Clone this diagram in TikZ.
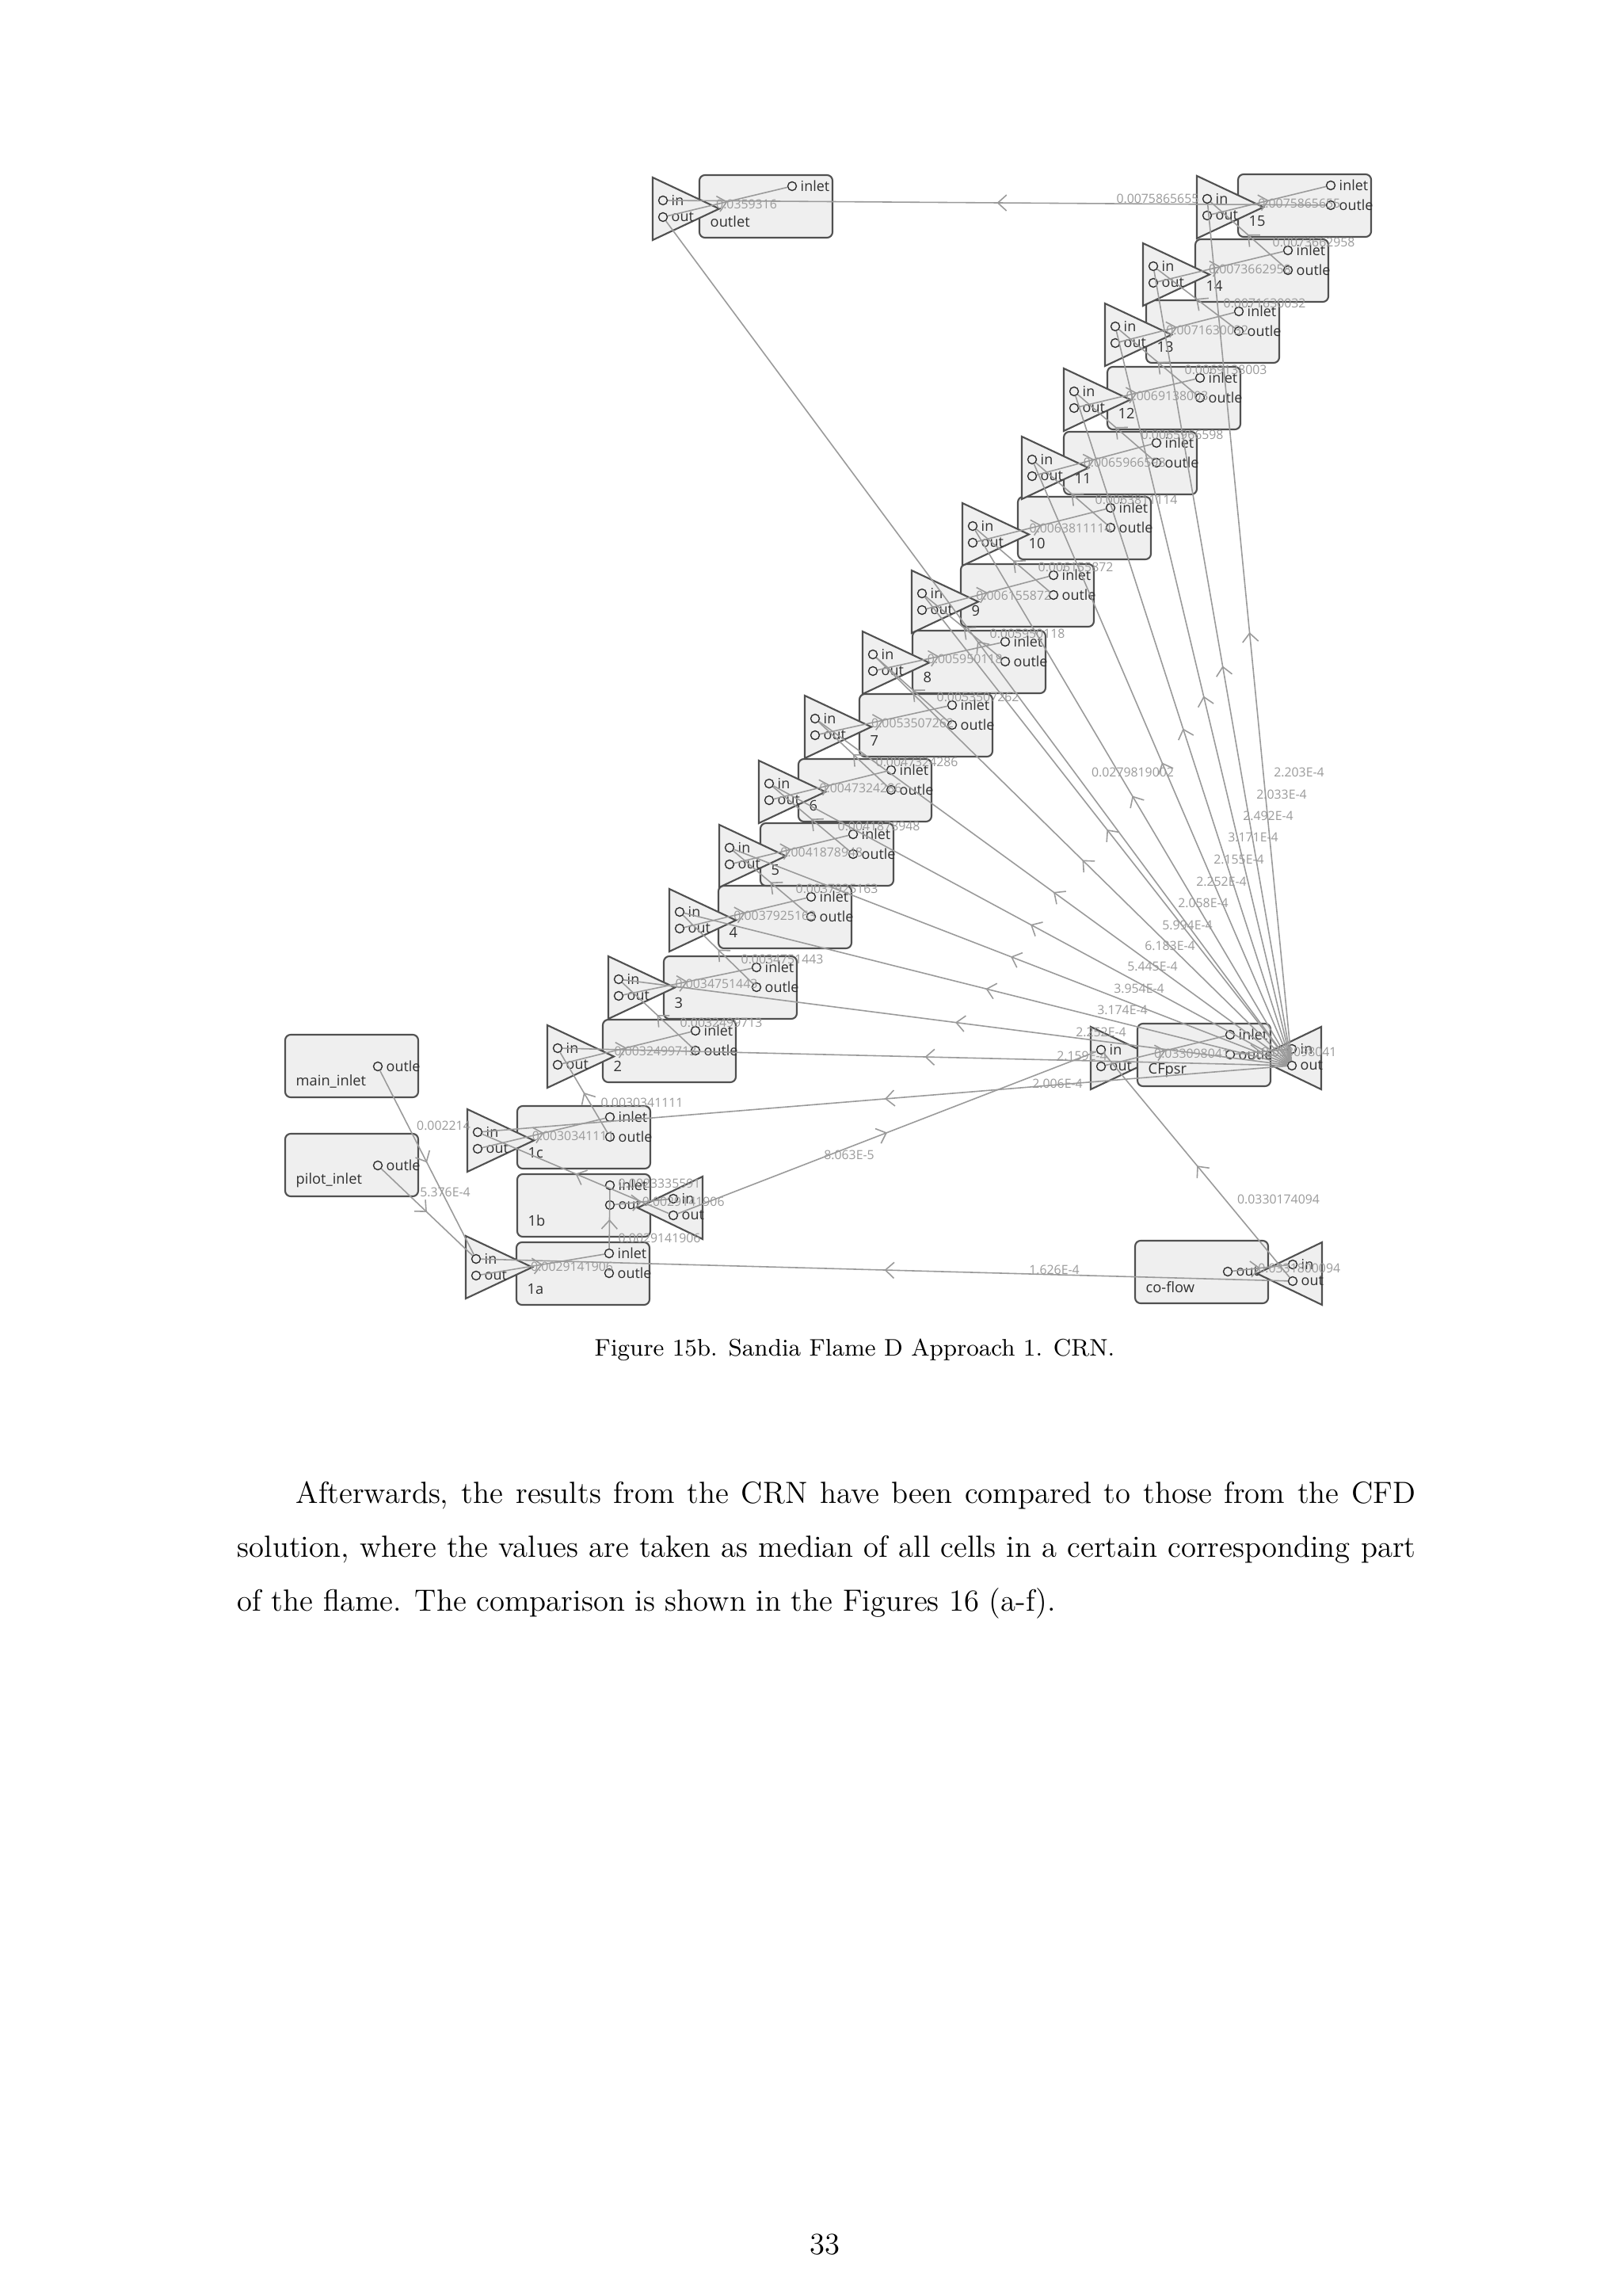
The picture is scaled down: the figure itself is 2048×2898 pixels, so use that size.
\documentclass[tikz,border=0pt]{standalone}
\usepackage{fontspec}
\newfontfamily\crnfont{Open Sans}
\usetikzlibrary{arrows.meta,decorations.markings,calc}
\definecolor{boxfill}{HTML}{EFEFEF}
\definecolor{boxline}{HTML}{505050}
\definecolor{flowline}{HTML}{9A9A9A}
\definecolor{crntext}{HTML}{303030}
\tikzset{
 box/.style={draw=boxline,fill=boxfill,line width=0.6pt,rounded corners=0.7mm},
 tri/.style={draw=boxline,fill=boxfill,line width=0.6pt},
 port/.style={circle,draw=crntext,line width=0.4pt,inner sep=0pt,minimum size=1.1mm},
 porttext/.style={anchor=west,inner sep=0pt,font=\crnfont\fontsize{5.1}{6}\selectfont,text=crntext},
 nametext/.style={anchor=west,inner sep=0pt,font=\crnfont\fontsize{5.2}{6}\selectfont,text=crntext},
 val/.style={inner sep=0pt,font=\crnfont\fontsize{4.5}{5}\selectfont,text=flowline},
 flow/.style={draw=flowline,line width=0.45pt,postaction={decorate},
  decoration={markings,mark=at position #1 with {\arrow{Straight Barb[length=1.1mm,width=2mm,color=flowline,line width=0.45pt]}}}},
 flow/.default=0.5,
 pagetext/.style={inner sep=0pt,font=\fontsize{11}{13}\selectfont}
}
% box of a reactor with its name
\newcommand{\crnbox}[4]{%
 \draw[box](#2,#3)rectangle++(168,79);
 \node[nametext](#1-name)at(#2+13,#3+59){#4};}
% port circle with its text
\newcommand{\crnport}[4]{%
 \node[port](#1)at(#2,#3){};
 \node[porttext](#1-txt)at(#2+10,#3){#4};}
% mixer, pointing right
\newcommand{\mixer}[3]{%
 \draw[tri](#2,#3)--++(0,79)--++(84,-39.5)--cycle;
 \crnport{#1-in}{#2+13}{#3+29}{in}
 \crnport{#1-out}{#2+13}{#3+50}{out}}
% splitter, pointing left
\newcommand{\splitter}[3]{%
 \draw[tri](#2,#3)--++(0,79)--++(-82,-39.5)--cycle;
 \crnport{#1-in}{#2-37}{#3+28}{in}
 \crnport{#1-out}{#2-37}{#3+49}{out}}
% reactor with inlet and outlet
\newcommand{\reactor}[4]{%
 \crnbox{#1}{#2}{#3}{#4}
 \crnport{#1-inlet}{#2+117}{#3+14}{inlet}
 \crnport{#1-outle}{#2+117}{#3+39}{outle}}
\begin{document}
\begin{tikzpicture}[x=0.01cm,y=-0.01cm]
\useasboundingbox[fill=white](0,0)rectangle(2048,2898);
%inlets
\crnbox{rMain}{360}{1306}{main\_inlet}
\crnport{rMain-outle}{477}{1346}{outle}
\crnbox{rPilot}{360}{1431}{pilot\_inlet}
\crnport{rPilot-outle}{477}{1471}{outle}
%co-flow
\crnbox{rCO}{1433}{1566}{co-flow}
\crnport{rCO-out}{1550}{1605}{out}
\splitter{sCO}{1669}{1568}
%zone 1
\reactor{r1a}{652}{1568}{1a}
\mixer{m1a}{588}{1560}
\crnbox{r1b}{653}{1482}{1b}
\crnport{r1b-inlet}{770}{1496}{inlet}
\crnport{r1b-out}{770}{1521}{out}
\splitter{s1b}{887}{1485}
\reactor{r1c}{653}{1396}{1c}
\mixer{m1c}{590}{1400}
%CFpsr
\mixer{mCF}{1377}{1296}
\splitter{sCF}{1668}{1296}
\reactor{rCF}{1436}{1292}{CFpsr}
%staircase of reactors
\reactor{r2}{761}{1287}{2}
\mixer{m2}{691}{1294}
\reactor{r3}{838}{1207}{3}
\mixer{m3}{768}{1207}
\reactor{r4}{907}{1118}{4}
\mixer{m4}{845}{1122}
\reactor{r5}{960}{1039}{5}
\mixer{m5}{908}{1041}
\reactor{r6}{1008}{958}{6}
\mixer{m6}{958}{960}
\reactor{r7}{1085}{876}{7}
\mixer{m7}{1016}{878}
\reactor{r8}{1152}{796}{8}
\mixer{m8}{1089}{797}
\reactor{r9}{1213}{712}{9}
\mixer{m9}{1151}{720}
\reactor{r10}{1285}{627}{10}
\mixer{m10}{1215}{635}
\reactor{r11}{1343}{545}{11}
\mixer{m11}{1290}{551}
\reactor{r12}{1398}{463}{12}
\mixer{m12}{1343}{465}
\reactor{r13}{1447}{379}{13}
\mixer{m13}{1395}{383}
\reactor{r14}{1509}{302}{14}
\mixer{m14}{1443}{307}
\reactor{r15}{1563}{220}{15}
\mixer{m15}{1511}{222}
%outlet
\crnbox{rOut}{883}{221}{outlet}
\crnport{rOut-inlet}{1000}{235}{inlet}
\mixer{mOut}{824}{224}
%flows inside the nodes
\draw[flow](mOut-out)--node[val,pos=.4,anchor=west]{0.0359316}(rOut-inlet);
\draw[flow](m15-out)--node[val,pos=.4,anchor=west]{0.0075865655}(r15-inlet);
\draw[flow](m14-out)--node[val,pos=.4,anchor=west]{0.0073662958}(r14-inlet);
\draw[flow](m13-out)--node[val,pos=.4,anchor=west]{0.0071630032}(r13-inlet);
\draw[flow](m12-out)--node[val,pos=.4,anchor=west]{0.0069138003}(r12-inlet);
\draw[flow](m11-out)--node[val,pos=.4,anchor=west]{0.0065966598}(r11-inlet);
\draw[flow](m10-out)--node[val,pos=.4,anchor=west]{0.0063811114}(r10-inlet);
\draw[flow](m9-out)--node[val,pos=.4,anchor=west]{0.006155872}(r9-inlet);
\draw[flow](m8-out)--node[val,pos=.4,anchor=west]{0.005950118}(r8-inlet);
\draw[flow](m7-out)--node[val,pos=.4,anchor=west]{0.0053507262}(r7-inlet);
\draw[flow](m6-out)--node[val,pos=.4,anchor=west]{0.0047324286}(r6-inlet);
\draw[flow](m5-out)--node[val,pos=.4,anchor=west]{0.0041878948}(r5-inlet);
\draw[flow](m4-out)--node[val,pos=.4,anchor=west]{0.0037925163}(r4-inlet);
\draw[flow](m3-out)--node[val,pos=.4,anchor=west]{0.0034751443}(r3-inlet);
\draw[flow](m2-out)--node[val,pos=.4,anchor=west]{0.0032499713}(r2-inlet);
\draw[flow](m1c-out)--node[val,pos=.4,anchor=west]{0.0030341111}(r1c-inlet);
\draw[flow](m1a-out)--node[val,pos=.4,anchor=west]{0.0029141906}(r1a-inlet);
\draw[flow](r1b-out)--node[val,pos=.5,anchor=west]{0.0029141906}(s1b-in);
\draw[flow](mCF-out)--node[val,pos=.4,anchor=west]{0.033098041}(rCF-inlet);
\draw[flow](rCF-outle)--node[val,pos=.5,anchor=west]{0.033098041}(sCF-in);
\draw[flow](rCO-out)--node[val,pos=.45,anchor=west]{0.0331800094}(sCO-in);
%chain of reactors
\draw[flow](r15-outle)--(mOut-in);
\node[val,anchor=east](l15)at(1514,251){0.0075865655};
\draw[flow](r14-outle)--(m15-in);
\node[val,anchor=west](l14)at($(r14-outle)+(-20,-35)$){0.0073662958};
\draw[flow](r13-outle)--(m14-in);
\node[val,anchor=west](l13)at($(r13-outle)+(-20,-35)$){0.0071630032};
\draw[flow](r12-outle)--(m13-in);
\node[val,anchor=west](l12)at($(r12-outle)+(-20,-35)$){0.0069138003};
\draw[flow](r11-outle)--(m12-in);
\node[val,anchor=west](l11)at($(r11-outle)+(-20,-35)$){0.0065966598};
\draw[flow](r10-outle)--(m11-in);
\node[val,anchor=west](l10)at($(r10-outle)+(-20,-35)$){0.0063811114};
\draw[flow](r9-outle)--(m10-in);
\node[val,anchor=west](l9)at($(r9-outle)+(-20,-35)$){0.006155872};
\draw[flow](r8-outle)--(m9-in);
\node[val,anchor=west](l8)at($(r8-outle)+(-20,-35)$){0.005950118};
\draw[flow](r7-outle)--(m8-in);
\node[val,anchor=west](l7)at($(r7-outle)+(-20,-35)$){0.0053507262};
\draw[flow](r6-outle)--(m7-in);
\node[val,anchor=west](l6)at($(r6-outle)+(-20,-35)$){0.0047324286};
\draw[flow](r5-outle)--(m6-in);
\node[val,anchor=west](l5)at($(r5-outle)+(-20,-35)$){0.0041878948};
\draw[flow](r4-outle)--(m5-in);
\node[val,anchor=west](l4)at($(r4-outle)+(-20,-35)$){0.0037925163};
\draw[flow](r3-outle)--(m4-in);
\node[val,anchor=west](l3)at($(r3-outle)+(-20,-35)$){0.0034751443};
\draw[flow](r2-outle)--(m3-in);
\node[val,anchor=west](l2)at($(r2-outle)+(-20,-35)$){0.0032499713};
\draw[flow](r1c-outle)--(m2-in);
\node[val,anchor=west](l1c)at(758,1392){0.0030341111};
\draw[flow](s1b-out)--(m1c-in);
\node[val,anchor=west](l1b)at(780,1494){0.0023335591};
\draw[flow](r1a-inlet)--(r1b-inlet);
\node[val,anchor=west](l1a)at(780,1563){0.0029141906};
%feeds
\draw[flow](rMain-outle)--(m1a-in);
\node[val](lmain)at(560,1421){0.002214};
\draw[flow](rPilot-outle)--(m1a-in);
\node[val](lpilot)at(562,1505){5.376E-4};
\draw[flow](sCO-out)--(m1a-in);
\node[val](lco1a)at(1331,1603){1.626E-4};
\draw[flow](sCO-out)--(mCF-in);
\node[val](lcoCF)at(1614,1514){0.0330174094};
\draw[flow](s1b-out)--(mCF-in);
\node[val](l1bCF)at(1072,1458){8.063E-5};
\draw[flow](sCF-out)--(mOut-out);
\node[val](lout)at(1430,975){0.0279819002};
%recirculation from CFpsr
\draw[flow](sCF-out)--(m15-in);
\node[val](f15)at(1640,975){2.203E-4};
\draw[flow](sCF-out)--(m14-in);
\node[val](f14)at(1618,1003){2.033E-4};
\draw[flow](sCF-out)--(m13-in);
\node[val](f13)at(1601,1030){2.492E-4};
\draw[flow](sCF-out)--(m12-in);
\node[val](f12)at(1582,1057){3.171E-4};
\draw[flow](sCF-out)--(m11-in);
\node[val](f11)at(1564,1085){2.155E-4};
\draw[flow](sCF-out)--(m10-in);
\node[val](f10)at(1542,1113){2.252E-4};
\draw[flow](sCF-out)--(m9-in);
\node[val](f9)at(1519,1140){2.058E-4};
\draw[flow](sCF-out)--(m8-in);
\node[val](f8)at(1499,1168){5.994E-4};
\draw[flow](sCF-out)--(m7-in);
\node[val](f7)at(1477,1194){6.183E-4};
\draw[flow](sCF-out)--(m6-in);
\node[val](f6)at(1455,1220){5.445E-4};
\draw[flow](sCF-out)--(m5-in);
\node[val](f5)at(1438,1248){3.954E-4};
\draw[flow](sCF-out)--(m4-in);
\node[val](f4)at(1417,1275){3.174E-4};
\draw[flow](sCF-out)--(m3-in);
\node[val](f3)at(1390,1303){2.252E-4};
\draw[flow](sCF-out)--(m2-in);
\node[val](f2)at(1366,1333){2.159E-4};
\draw[flow](sCF-out)--(m1c-in);
\node[val](f1c)at(1335,1368){2.006E-4};
%caption and text
\node[pagetext,anchor=base,font=\fontsize{8.6}{10}\selectfont](caption)at(1079,1711){Figure 15b. Sandia Flame D Approach 1. CRN.};
\node[pagetext,anchor=base west](line1)at(373,1897){\makebox[14.13cm][s]{Afterwards, the results from the CRN have been compared to those from the CFD}};
\node[pagetext,anchor=base west](line2)at(299,1965){\makebox[14.87cm][s]{solution, where the values are taken as median of all cells in a certain corresponding part}};
\node[pagetext,anchor=base west](line3)at(299,2033){of the flame. The comparison is shown in the Figures 16 (a-f).};
\node[pagetext,anchor=base](pageno)at(1041,2845){33};
\end{tikzpicture}
\end{document}
